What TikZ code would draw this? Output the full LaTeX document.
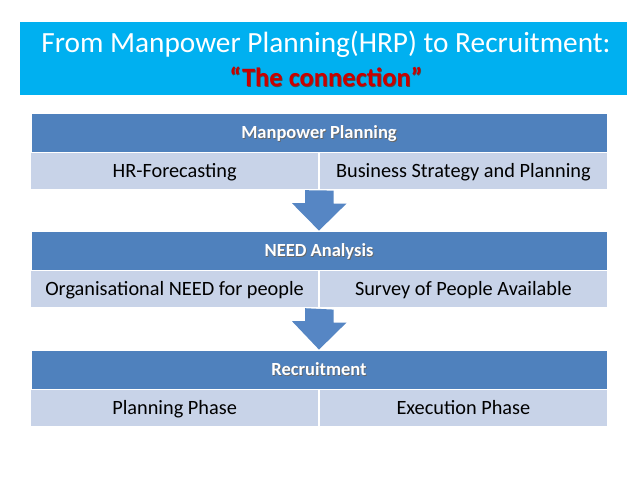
\documentclass[tikz,border=0pt]{standalone}
\usepackage{fontspec}
\setmainfont{Carlito}
\usetikzlibrary{positioning,calc}
\definecolor{titlebg}{RGB}{0,176,240}
\definecolor{hdr}{RGB}{79,129,189}
\definecolor{rowbg}{RGB}{200,211,232}
\definecolor{arrowc}{RGB}{86,134,196}
\definecolor{redtxt}{RGB}{200,0,0}
\tikzset{
  hdrcell/.style={fill=hdr, draw=white, line width=0.8pt, minimum width=576pt, minimum height=39pt, inner sep=0pt},
  rowcell/.style={fill=rowbg, draw=white, line width=0.8pt, minimum width=288pt, minimum height=37pt, inner sep=0pt, font=\fontsize{20.3}{22}\selectfont, text=black, text height=15pt, text depth=2pt},
  hdrtxt/.style={font=\fontsize{18.5}{20}\selectfont\bfseries, text=white, text height=14pt, text depth=2pt},
  shadowtxt/.style={font=\fontsize{18.5}{20}\selectfont\bfseries, text=black!60, text height=14pt, text depth=2pt},
  downarrow/.style={fill=arrowc, draw=none}
}
\begin{document}
\begin{tikzpicture}[x=1pt,y=-1pt]
\useasboundingbox (0,0) rectangle (638,478);
\fill[white] (0,0) rectangle (638,478);
% title
\node[fill=titlebg, minimum width=607pt, minimum height=73pt, inner sep=0pt] (title) at (323.5,58.5) {};
\node[text=white, font=\fontsize{29.3}{32}\selectfont] (t1) at (326,44) {From Manpower Planning(HRP) to Recruitment:};
\node[text=black!70, font=\fontsize{26.5}{30}\selectfont\bfseries] at (326.7,77.7) {“The connection”};
\node[text=redtxt, font=\fontsize{26.5}{30}\selectfont\bfseries] (t2) at (326,77) {“The connection”};
% table 1
\node[hdrcell] (h1) at (319,132.5) {};
\node[shadowtxt] at (319.8,133.3) {Manpower Planning};
\node[hdrtxt] at (319,132.5) {Manpower Planning};
\node[rowcell, anchor=north east] (r1a) at (h1.south) {HR-Forecasting};
\node[rowcell, anchor=north west] (r1b) at (h1.south) {Business Strategy and Planning};
% table 2
\node[hdrcell] (h2) at (319,250.5) {};
\node[shadowtxt] at (319.8,251.3) {NEED Analysis};
\node[hdrtxt] at (319,250.5) {NEED Analysis};
\node[rowcell, anchor=north east] (r2a) at (h2.south) {Organisational NEED for people};
\node[rowcell, anchor=north west] (r2b) at (h2.south) {Survey of People Available};
% table 3
\node[hdrcell] (h3) at (319,369.5) {};
\node[shadowtxt] at (319.8,370.3) {Recruitment};
\node[hdrtxt] at (319,369.5) {Recruitment};
\node[rowcell, anchor=north east] (r3a) at (h3.south) {Planning Phase};
\node[rowcell, anchor=north west] (r3b) at (h3.south) {Execution Phase};
% arrows
\foreach \a/\b in {r1b/h2, r2b/h3}{
  \fill[downarrow] ($(\a.south west)+(-14,0)$) -- ++(0,13) -- ++(-13,0) -- ($(\b.north)$) -- ++(27.5,-27) -- ++(-13,0) -- ++(0,-13) -- cycle;
}
\end{tikzpicture}
\end{document}
